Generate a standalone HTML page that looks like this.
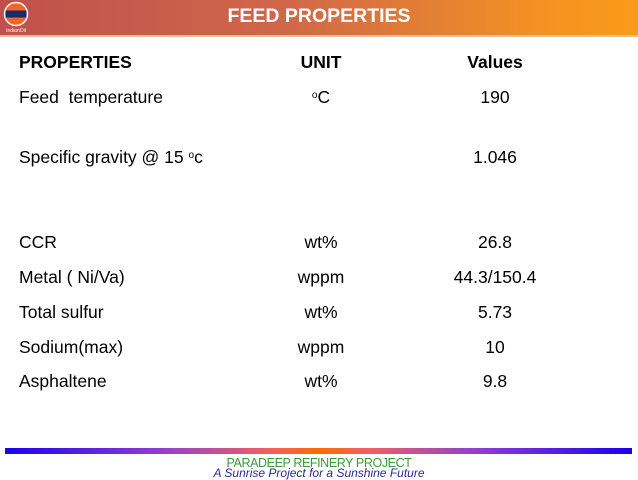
<!DOCTYPE html>
<html><head><meta charset="utf-8">
<style>
body{margin:0;width:638px;height:478px;background:#fff;position:relative;overflow:hidden;font-family:"Liberation Sans",Arial,sans-serif;}
.hdr{position:absolute;left:0;top:0;width:638px;height:35px;background:linear-gradient(90deg,#c0504d 0%,#d0674a 45%,#f39223 85%,#f99b1a 100%);border-bottom:2px solid #e8c0a0;}
.title{position:absolute;left:0;width:638px;top:5px;text-align:center;color:#fff;font-weight:bold;font-size:19.5px;font-family:"Liberation Sans",sans-serif;}
.t{position:absolute;font-size:17.5px;color:#000;line-height:20px;white-space:nowrap;}
.c1{left:19px;}
.c2{left:261px;width:120px;text-align:center;}
.c3{left:435px;width:120px;text-align:center;}
.b{font-weight:bold;}
.bar{position:absolute;left:5px;top:448px;width:627px;height:6px;background:linear-gradient(90deg,#1a00f0 0%,#9040d0 25%,#f06060 42%,#ff6a00 50%,#f06060 58%,#9040d0 75%,#1a00f0 100%);}
.f1{position:absolute;left:0;width:638px;top:456px;text-align:center;color:#3a9a3a;font-size:12.5px;letter-spacing:-0.4px;}
.f2{position:absolute;left:0;width:638px;top:466px;text-align:center;color:#2a2a90;font-size:12px;font-style:italic;}
sup{font-size:10px;vertical-align:5px;line-height:0;}
</style></head><body>
<div class="hdr">
<svg style="position:absolute;left:3px;top:1px" width="28" height="33">
<circle cx="13" cy="13" r="11.5" fill="#f26522" stroke="#fff" stroke-width="1.5"/>
<rect x="2.5" y="9.5" width="21" height="7" fill="#1a2a6c"/>
<text x="13" y="31" font-size="5" fill="#fff" text-anchor="middle" font-family="Liberation Sans">IndianOil</text>
</svg>
<div class="title">FEED PROPERTIES</div>
</div>
<div class="t c1 b" style="top:52px">PROPERTIES</div>
<div class="t c2 b" style="top:52px">UNIT</div>
<div class="t c3 b" style="top:52px">Values</div>

<div class="t c1" style="top:87px">Feed&nbsp; temperature</div>
<div class="t c2" style="top:87px"><sup>o</sup>C</div>
<div class="t c3" style="top:87px">190</div>

<div class="t c1" style="top:147px">Specific gravity @ 15 <sup>o</sup>c</div>
<div class="t c3" style="top:147px">1.046</div>

<div class="t c1" style="top:232px">CCR</div>
<div class="t c2" style="top:232px">wt%</div>
<div class="t c3" style="top:232px">26.8</div>

<div class="t c1" style="top:267px">Metal ( Ni/Va)</div>
<div class="t c2" style="top:267px">wppm</div>
<div class="t c3" style="top:267px">44.3/150.4</div>

<div class="t c1" style="top:302px">Total sulfur</div>
<div class="t c2" style="top:302px">wt%</div>
<div class="t c3" style="top:302px">5.73</div>

<div class="t c1" style="top:337px">Sodium(max)</div>
<div class="t c2" style="top:337px">wppm</div>
<div class="t c3" style="top:337px">10</div>

<div class="t c1" style="top:371px">Asphaltene</div>
<div class="t c2" style="top:371px">wt%</div>
<div class="t c3" style="top:371px">9.8</div>

<div class="bar"></div>
<div class="f1">PARADEEP REFINERY PROJECT</div>
<div class="f2">A Sunrise Project for a Sunshine Future</div>
</body></html>
